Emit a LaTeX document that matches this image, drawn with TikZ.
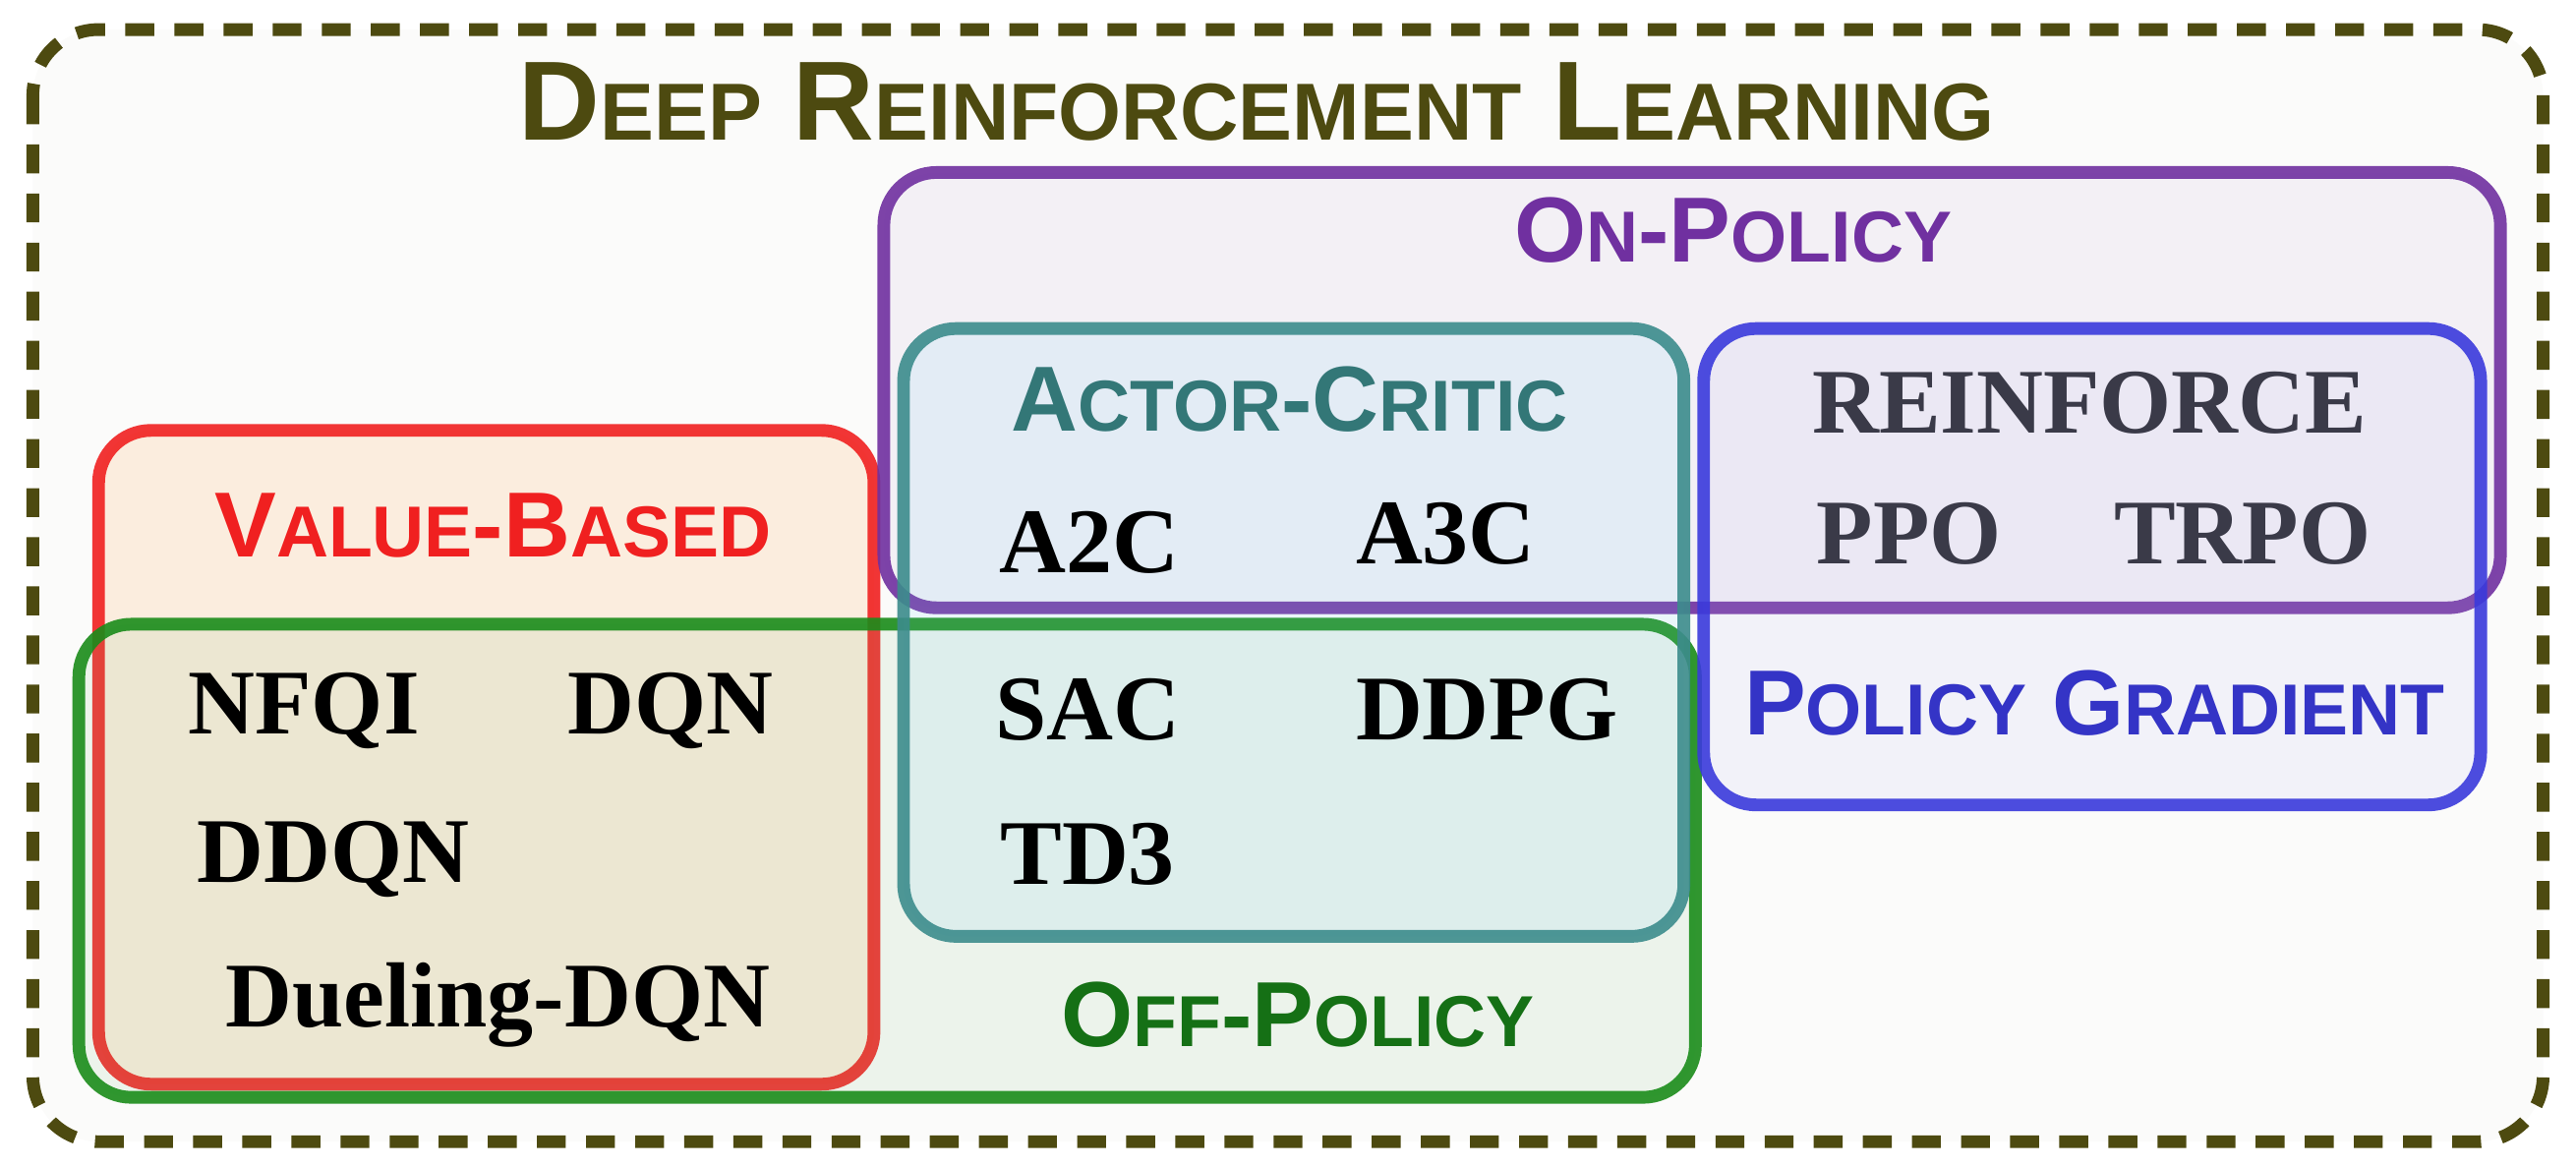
\documentclass[tikz,border=0pt]{standalone}
\usepackage{fontspec}
\setmainfont{Liberation Serif}
\newfontfamily\ttl{Liberation Sans}
\newcommand{\sm}[1]{{\fontsize{12.5pt}{13pt}\selectfont #1}}
\newcommand{\smb}[1]{{\fontsize{14pt}{15pt}\selectfont #1}}
\begin{document}
\begin{tikzpicture}[x=0.01cm,y=-0.01cm]
\definecolor{olv}{HTML}{4D4A10}
\definecolor{pur}{HTML}{7030A0}
\definecolor{tea}{HTML}{3C8C8C}
\definecolor{blu}{HTML}{3A3ADC}
\definecolor{rd}{HTML}{F02020}
\definecolor{grn}{HTML}{1A8C1A}
\definecolor{gry}{HTML}{3A3A48}
\tikzset{grp/.style={line width=2.2pt,rounded corners=0.32cm,fill opacity=0.11,draw opacity=0.9},
 ttlt/.style={font=\ttl\bfseries\fontsize{16pt}{17pt}\selectfont},
 mth/.style={font=\bfseries\fontsize{16pt}{18pt}\selectfont}}
\useasboundingbox (0,0) rectangle (1568,710);
\draw[olv,line width=2.2pt,dash pattern=on 5pt off 3.5pt,rounded corners=0.4cm,fill=olv!2] (20,18) rectangle (1548,695);
\node[olv,font=\ttl\bfseries\fontsize{19.5pt}{20pt}\selectfont] (t) at (765,62) {D\smb{EEP} R\smb{EINFORCEMENT} L\smb{EARNING}};
\draw[grp,rd,fill=orange] (60,262) rectangle (532,660);
\draw[grp,grn,fill=grn!60] (48,380) rectangle (1032,668);
\draw[grp,pur,fill=pur!50] (538,105) rectangle (1522,370);
\draw[grp,tea,fill=cyan!60] (550,200) rectangle (1025,570);
\draw[grp,blu,fill=blu!40] (1037,200) rectangle (1510,490);
\node[ttlt,rd] (vbt) at (300,320) {V\sm{ALUE}-B\sm{ASED}};
\node[ttlt,grn!80!black] (opt) at (790,618) {O\sm{FF}-P\sm{OLICY}};
\node[ttlt,pur] (ont) at (1055,140) {O\sm{N}-P\sm{OLICY}};
\node[ttlt,tea!85!black] (act) at (785,243) {A\sm{CTOR}-C\sm{RITIC}};
\node[ttlt,blu!90!black] (pgt) at (1275,428) {P\sm{OLICY} G\sm{RADIENT}};
\node[mth] (n1) at (185,433) {NFQI};
\node[mth] (n2) at (408,433) {DQN};
\node[mth] (n3) at (203,523) {DDQN};
\node[mth] (n4) at (303,612) {Dueling-DQN};
\node[mth] (n5) at (663,330) {A2C};
\node[mth] (n6) at (880,325) {A3C};
\node[mth] (n7) at (662,432) {SAC};
\node[mth] (n8) at (905,432) {DDPG};
\node[mth] (n9) at (662,520) {TD3};
\node[mth,gry] (n10) at (1272,245) {REINFORCE};
\node[mth,gry] (n11) at (1162,325) {PPO};
\node[mth,gry] (n12) at (1365,325) {TRPO};
\end{tikzpicture}
\end{document}
